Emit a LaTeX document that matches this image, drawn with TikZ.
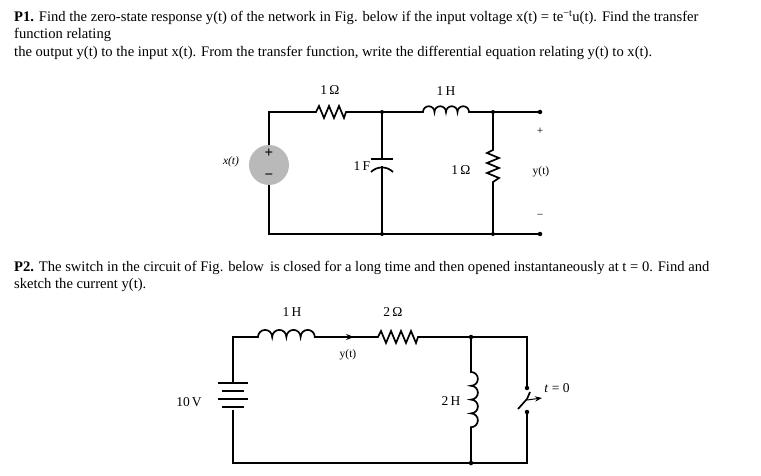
\documentclass[tikz,border=0pt]{standalone}
\usepackage{fontspec}
\setmainfont{Liberation Serif}
\usetikzlibrary{arrows.meta}
\begin{document}
\begin{tikzpicture}[x=1pt,y=-1pt,
  w/.style={line width=1.7pt},
  txt/.style={anchor=west,inner sep=0pt,font=\fontsize{14.6}{17}\selectfont},
  lab/.style={inner sep=0pt,font=\fontsize{13.5}{15}\selectfont},
  sml/.style={inner sep=0pt,font=\fontsize{11.5}{13}\selectfont},
  dot/.style={circle,fill,inner sep=0pt,minimum size=4.5pt}]
\useasboundingbox (0,0) rectangle (761,476);
% text
\node[txt] (t1) at (14,18) {\textbf{P1.} Find the zero-state response y(t) of the network in Fig. below if the input voltage x(t) = te\textsuperscript{−t}u(t). Find the transfer};
\node[txt] (t2) at (14,35) {function relating};
\node[txt] (t3) at (14,53) {the output y(t) to the input x(t). From the transfer function, write the differential equation relating y(t) to x(t).};
\node[txt] (t4) at (14,268) {\textbf{P2.} The switch in the circuit of Fig. below\, is closed for a long time and then opened instantaneously at t = 0. Find and};
\node[txt] (t5) at (14,285) {sketch the current y(t).};
% ---- circuit 1
\coordinate (a1) at (269,112); \coordinate (b1) at (269,234);
\coordinate (n1) at (382,112); \coordinate (n1b) at (382,234);
\coordinate (n2) at (493,112); \coordinate (n2b) at (493,234);
\node[circle,fill=gray!55,minimum size=40pt,inner sep=0pt] (src) at (269,165) {};
\node[font=\bfseries\fontsize{15}{15}\selectfont] at (269,153) {+};
\node[font=\bfseries\fontsize{15}{15}\selectfont] at (269,177) {−};
\draw[w] (src.north) -- (a1) -- (316,112)
  -- (319,106) -- (324,118) -- (329,106) -- (334,118) -- (339,106) -- (344,118) -- (346,112)
  -- (n1) -- (423,112)
  \foreach \i in {0,...,3} { arc (180:360:5.75) } -- (n2) -- (540,112);
\draw[w] (src.south) -- (b1) -- (540,234);
\draw[w] (n1) -- (382,159);
\draw[w] (371,159) -- (393,159);
\draw[w] (371,172) to[bend left=45] (393,172);
\draw[w] (382,166) -- (n1b);
\draw[w] (n2) -- (493,150) -- (487,153) -- (499,158) -- (487,163) -- (499,168) -- (487,173) -- (499,178) -- (493,182) -- (n2b);
\foreach \p in {n1,n1b,n2,n2b} \node[dot,minimum size=4pt] at (\p) {};
\node[dot] (o1) at (540,112) {}; \node[dot] (o2) at (540,234) {};
\node[lab] at (330,90) {1\,Ω};
\node[lab] at (446,91) {1\,H};
\node[lab] at (362,166) {1\,F};
\node[lab] at (461,170) {1\,Ω};
\node[sml,font=\itshape\fontsize{11.5}{13}\selectfont] at (231,162) {x(t)};
\node[sml] at (541,172) {y(t)};
\node[sml] at (540,131) {+};
\node[sml] at (540,216) {−};
% ---- circuit 2
\coordinate (c1) at (233,337); \coordinate (c2) at (233,463);
\coordinate (m1) at (471,337); \coordinate (m2) at (471,463);
\coordinate (r1) at (527,337); \coordinate (r2) at (527,463);
\draw[w] (233,383) -- (c1) -- (258,337)
  \foreach \i in {0,...,3} { arc (180:360:7.1) } -- (378,337)
  -- (381,331) -- (386,343) -- (391,331) -- (396,343) -- (401,331) -- (406,343) -- (411,331) -- (416,343) -- (418,337)
  -- (m1) -- (r1) -- (527,388);
\draw[-{Stealth[length=8pt]},line width=1pt] (340,337) -- (354,337);
\draw[w] (233,410) -- (c2) -- (r2) -- (527,412);
\draw[w] (218,383) -- (248,383);
\draw[w] (222,391) -- (244,391);
\draw[w] (218,399) -- (248,399);
\draw[w] (222,407) -- (244,407);
\draw[w] (m1) -- (471,372)
  \foreach \i in {0,...,3} { arc (-90:90:6.9) } -- (m2);
\node[dot] at (m1) {}; \node[dot] at (m2) {};
\node[dot] (s1) at (527,388) {};
\node[dot] (s2) at (527,412) {};
\draw[w] (518,409) -- (527,399) -- (530,392);
\draw[-{Stealth[length=7pt]},line width=1pt] (527,400) -- (542,398);
\node[lab] at (292,312) {1\,H};
\node[lab] at (393,312) {2\,Ω};
\node[sml] at (348,355) {y(t)};
\node[lab] at (189,402) {10\,V};
\node[lab] at (451,401) {2\,H};
\node[lab] at (557,388) {\textit{t} = 0};
\end{tikzpicture}
\end{document}
